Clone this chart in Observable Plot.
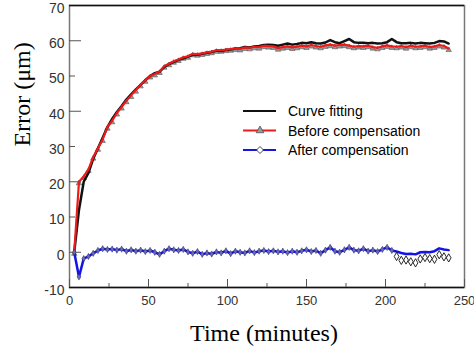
<!DOCTYPE html>
<html><head><meta charset="utf-8">
<script src="https://cdn.jsdelivr.net/npm/d3@7"></script>
<script src="https://cdn.jsdelivr.net/npm/@observablehq/plot@0.6"></script>
<style>body{margin:0;background:#fff}#chart{position:relative;width:474px;height:356px}</style>
</head><body><div id="chart"></div>
<script>
// Time (minutes)
const time = [3,6,9,12,15,18,21,24,27,30,33,36,39,42,45,48,51,54,57,60,63,66,69,72,75,78,81,84,87,90,93,96,99,102,105,108,111,114,117,120,123,126,129,132,135,138,141,144,147,150,153,156,159,162,165,168,171,174,177,180,183,186,189,192,195,198,201,204,207,210,213,216,219,222,225,228,231,234,237,240];
// Curve fitting
const curveFitting = [0,12,20,22.5,26.5,29.5,32.5,35.5,37.8,39.8,41.5,43.3,44.8,46.2,47.5,48.8,50,50.8,51.2,52.6,53.4,54,54.6,55,55.5,56,56,56.3,56.6,56.8,57.2,57.1,57.4,57.5,57.8,57.9,58.2,58.1,58.4,58.5,58.8,58.9,58.8,58.6,58.9,59.2,58.9,59.1,59.4,59.3,59.6,59.3,59.2,59.5,60.2,59.6,59.3,59.9,60.5,59.6,59.4,59.4,59.3,59.4,59.2,59.3,59.6,60.5,59.6,59.3,59.3,59.4,59.2,59.4,59.3,59.2,59.4,59.9,59.8,59.2];
// Before compensation
const beforeComp = [0,20,21.5,23.5,27,29.5,32,35.5,37.3,39.5,41.2,43,44.5,46,47.5,48.8,50,50.6,51.3,52.8,53.5,54.2,54.7,55.3,55.6,56.3,56.2,56.4,56.7,56.9,57.3,57.3,57.5,57.6,57.8,57.7,58.1,58,58.3,58.2,58.6,58.5,58.4,57.9,58.2,58.4,58.1,58.3,58.6,58.4,58.8,58.5,58.3,58.7,58.9,58.6,58.8,58.9,58.6,58.3,58.5,58.4,58.6,58.2,58,58.4,58.7,58.4,58.3,58.5,58.2,58.6,58.3,58.4,58.6,58.2,58.4,58.8,58.5,57.8];
// After compensation (line)
const afterComp = [0,-7,-1.8,-1.2,-0.3,0.5,1,0.8,0.9,0.6,0.9,0.3,0.7,0.3,0.6,0.2,0.5,0,-0.6,0.3,1,0.7,0.5,0.8,0.1,-0.3,0.2,-0.6,-0.2,-0.5,0.1,-0.2,0.4,-0.4,0.3,0,-0.2,0.4,-0.1,0.3,0.5,0.2,0.4,0.1,0.3,-0.1,0.3,0,0.4,0.7,0.2,0.5,-0.3,0.6,1.4,0.3,0,0.7,1.4,0.6,0.4,1,0.3,0.6,0.2,0.8,1.4,0.5,0.2,-0.2,-0.5,-0.4,-0.6,0,0.1,0,0.3,1.1,0.8,0.6];
const afterMarkerLast = 204; // diamonds on the blue line up to this time
// After compensation (separate hollow diamonds)
const extraTime = [207,210,213,216,219,222,225,228,231,234,237,240];
const extraAfter = [-1.2,-2.3,-2.2,-2.7,-3.0,-1.9,-1.5,-1.8,-2.0,-0.7,-1.3,-1.6];

const xDomain = [0, 250];
const yDomain = [-10, 70];
const xTicks = [0, 50, 100, 150, 200, 250];
const xMinorTicks = [25, 75, 125, 175, 225];
const yTicks = [-10, 0, 10, 20, 30, 40, 50, 60, 70];
const yLongTicks = [0, 20, 40, 60];
const yShortTicks = [10, 30, 50];
const seriesNames = ["Curve fitting", "Before compensation", "After compensation"];
const xLabel = "Time (minutes)";
const yLabel = "Error (μm)";

const rows = time.map((t, i) => ({t, fit: curveFitting[i], before: beforeComp[i], after: afterComp[i]}));
const extra = extraTime.map((t, i) => ({t, v: extraAfter[i]}));

const RED = "#ee1a1a", BLUE = "#1414e6", BLACK = "#111";

const chart = Plot.plot({
  width: 474, height: 356,
  marginLeft: 69, marginRight: 10, marginTop: 5, marginBottom: 69,
  style: {fontFamily: "'Liberation Sans', Arial, sans-serif", fontSize: "12.5px", color: "#333", background: "#fff"},
  x: {domain: xDomain},
  y: {domain: yDomain},
  marks: [
    Plot.frame({stroke: "#777", strokeWidth: 1.5}),
    Plot.ruleY([yDomain[0], yDomain[1]], {stroke: "#111", strokeWidth: 1.5}),
    Plot.axisX({ticks: xTicks, tickSize: -8, tickFormat: () => "", stroke: "#555", label: null}),
    Plot.axisX({ticks: xMinorTicks, tickSize: -4, tickFormat: () => "", stroke: "#555", label: null}),
    Plot.axisX({ticks: xTicks, tickSize: 0, tickPadding: 8, tickFormat: d => String(d), label: null, fontSize: 13}),
    Plot.axisY({ticks: yLongTicks, tickSize: -12, tickFormat: () => "", stroke: "#555", label: null}),
    Plot.axisY({ticks: yShortTicks, tickSize: -6, tickFormat: () => "", stroke: "#555", label: null}),
    Plot.axisY({ticks: yTicks, tickSize: 0, tickPadding: 5, dy: 3, tickFormat: d => String(d), label: null, fontSize: 14}),
    Plot.text([yLabel], {frameAnchor: "left", dx: -47, rotate: -90, fontFamily: "'Liberation Serif', 'Times New Roman', serif", fontSize: 24, fill: "#000"}),
    Plot.text([xLabel], {frameAnchor: "bottom", dy: 53, dx: -3, fontFamily: "'Liberation Serif', 'Times New Roman', serif", fontSize: 24, fill: "#000"}),
    // before compensation: triangle markers under red line
    Plot.dot(rows, {x: "t", y: "before", symbol: "triangle", r: 2, fill: "#999", stroke: "#555", strokeWidth: 0.6, dy: 1.5}),
    Plot.line(rows, {x: "t", y: "fit", stroke: BLACK, strokeWidth: 2.5}),
    Plot.line(rows, {x: "t", y: "before", stroke: RED, strokeWidth: 2.2}),
    // after compensation
    Plot.line(rows, {x: "t", y: "after", stroke: BLUE, strokeWidth: 2.5}),
    Plot.dot(rows.filter(d => d.t <= afterMarkerLast), {x: "t", y: "after", symbol: "diamond", r: 1.9, fill: "#6a6ab8", stroke: "#22225a", strokeWidth: 0.6, strokeOpacity: 0.8}),
    Plot.dot(extra, {x: "t", y: "v", symbol: "diamond", r: 2.5, fill: "#fff", stroke: "#111", strokeWidth: 0.9})
  ]
});
document.getElementById("chart").appendChild(chart);

// legend inside the plot area
const svg = d3.select(chart);
const lg = svg.append("g").attr("font-family", "'Liberation Sans', Arial, sans-serif").attr("font-size", 14).attr("text-anchor", "start");
const legendColors = [BLACK, RED, BLUE];
seriesNames.forEach((name, i) => {
  const y = 111 + i * 19.5;
  lg.append("line").attr("x1", 243).attr("x2", 276).attr("y1", y).attr("y2", y).attr("stroke", legendColors[i]).attr("stroke-width", 2.2);
  if (i === 1) lg.append("path").attr("d", d3.symbol(d3.symbolTriangle, 26)()).attr("transform", `translate(260,${y})`).attr("fill", "#999").attr("stroke", "#444").attr("stroke-width", 0.7);
  if (i === 2) lg.append("path").attr("d", "M0,-3.5L3.5,0L0,3.5L-3.5,0Z").attr("transform", `translate(260,${y})`).attr("fill", "#fff").attr("stroke", "#333").attr("stroke-width", 0.9);
  lg.append("text").attr("x", 288).attr("y", y + 5).attr("fill", "#000").attr("text-anchor", "start").text(name);
});
</script>
</body></html>
